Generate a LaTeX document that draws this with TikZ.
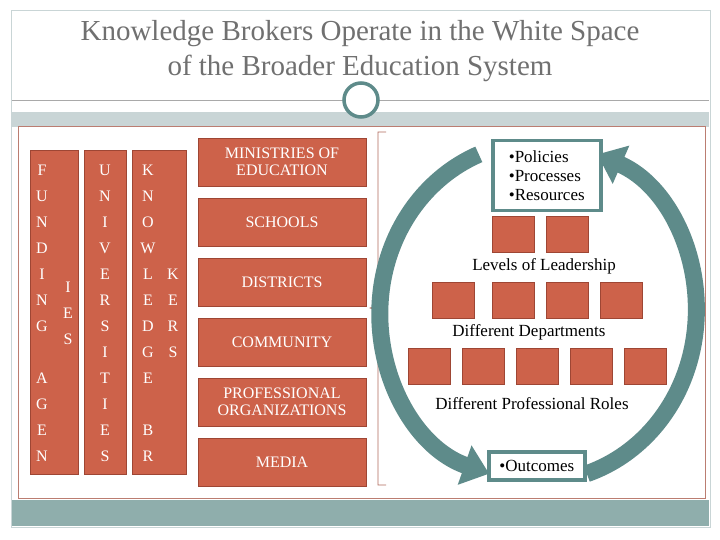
\documentclass[tikz,border=0pt]{standalone}
\usepackage{fontspec}
\setmainfont{Liberation Serif}
\usetikzlibrary{arrows.meta,calc}
\definecolor{boxfill}{HTML}{CD624A}
\definecolor{boxline}{HTML}{9E4634}
\definecolor{teal}{HTML}{5E8B8A}
\definecolor{band}{HTML}{8FAEAC}
\definecolor{lightband}{HTML}{C9D5D6}
\definecolor{titlegray}{HTML}{707070}
\tikzset{
  obox/.style={draw=boxline,fill=boxfill,line width=0.8pt},
  otext/.style={text=white,font=\fontsize{16}{17}\selectfont,align=center},
  let/.style={text=white,font=\fontsize{16}{16}\selectfont,inner sep=0pt},
  sq/.style={obox,minimum width=42pt,minimum height=36pt,inner sep=0pt},
  lbl/.style={font=\fontsize{17}{18}\selectfont,text=black},
  tbox/.style={draw=teal,line width=3.5pt,fill=white,align=left,font=\fontsize{17}{19}\selectfont},
  cyc/.style={teal,line width=17pt,{Triangle[width=40pt,length=26pt]}-}
}
\begin{document}
\begin{tikzpicture}[x=1pt,y=-1pt]
\useasboundingbox (0,0) rectangle (720,540);
\fill[white] (0,0) rectangle (720,540);
\draw[lightband,line width=0.8pt] (11,10) rectangle (710,527);
\fill[lightband] (12,112) rectangle (709,127);
\fill[band] (12,500) rectangle (709,526);
\fill[white] (18,126) rectangle (705,498);
\draw[boxline!70,line width=0.6pt] (18,126) rectangle (705,498);
\draw[titlegray!60,line width=0.8pt] (12,100) -- (343,100) (379,100) -- (709,100);
\node[draw=teal,fill=white,circle,line width=3.5pt,minimum size=34pt] (ring) at (361,100) {};
\node[text=titlegray,font=\fontsize{29}{35}\selectfont,align=center] (title) at (360,51)
  {Knowledge Brokers Operate in the White Space\\of the Broader Education System};
% columns
\node[obox,minimum width=48pt,minimum height=324pt,anchor=north west,inner sep=0pt] (fund) at (30,150) {};
\node[obox,minimum width=42pt,minimum height=324pt,anchor=north west,inner sep=0pt] (univ) at (84,150) {};
\node[obox,minimum width=54pt,minimum height=324pt,anchor=north west,inner sep=0pt] (know) at (132,150) {};
\begin{scope}
\clip (30,150) rectangle (186,474);
\foreach \c [count=\i] in {F,U,N,D,I,N,G,{},A,G,E,N,C}
  \node[let] (f\i) at (42,144+26*\i) {\c};
\foreach \c [count=\i] in {I,E,S}
  \node[let] (fi\i) at (68,261+26*\i) {\c};
\foreach \c [count=\i] in {U,N,I,V,E,R,S,I,T,I,E,S}
  \node[let] (u\i) at (105,144+26*\i) {\c};
\foreach \c [count=\i] in {K,N,O,W,L,E,D,G,E,{},B,R,O}
  \node[let] (k\i) at (148,144+26*\i) {\c};
\foreach \c [count=\i] in {K,E,R,S}
  \node[let] (kk\i) at (173,248+26*\i) {\c};
\end{scope}
% right boxes
\foreach \t/\y/\n in {{MINISTRIES OF\\EDUCATION}/162/b1,SCHOOLS/222/b2,DISTRICTS/282/b3,COMMUNITY/342/b4,{PROFESSIONAL\\ORGANIZATIONS}/402/b5,MEDIA/462/b6}
  \node[obox,otext,minimum width=168pt,minimum height=48pt,inner sep=0pt] (\n) at (282,\y) {\t};
% bracket
\draw[boxline!80,line width=0.6pt] (386,132) -- (378,132) -- (378,305) -- (370,308) -- (378,311) -- (378,485) -- (386,485);
% cycle arrows
\coordinate (cc) at (538,312);
\draw[cyc] ($(cc)+(108:158 and 170)$) arc[start angle=108,end angle=248,x radius=158,y radius=170];
\draw[cyc] ($(cc)+(-68:158 and 170)$) arc[start angle=-68,end angle=72,x radius=158,y radius=170];
% boxes
\node[tbox,minimum width=108pt,minimum height=70pt,anchor=north west,inner sep=5pt] (pol) at (491,139)
  {\textbullet Policies\\\textbullet Processes\\\textbullet Resources};
\node[tbox,minimum width=96pt,minimum height=28pt,anchor=north west,inner sep=2pt] (out) at (487,450) {\textbullet Outcomes};
% squares
\foreach \x [count=\i] in {513,567} \node[sq] (r1\i) at (\x,234) {};
\foreach \x [count=\i] in {453,513,567,621} \node[sq] (r2\i) at (\x,300) {};
\foreach \x [count=\i] in {429,483,537,591,645} \node[sq] (r3\i) at (\x,366) {};
\node[lbl] (l1) at (544,266) {Levels of Leadership};
\node[lbl] (l2) at (529,332) {Different Departments};
\node[lbl] (l3) at (532,404) {Different Professional Roles};
\end{tikzpicture}
\end{document}
